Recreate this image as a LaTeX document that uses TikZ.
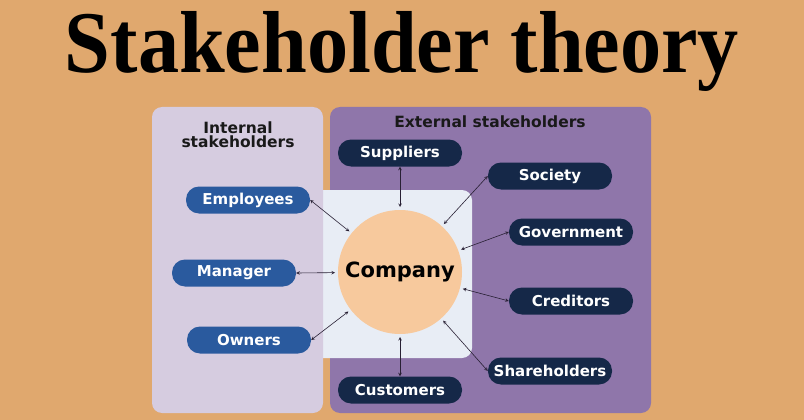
\documentclass[tikz,border=0pt]{standalone}
\usepackage{fontspec}
\setmainfont{Liberation Serif}
\setsansfont{DejaVu Sans}
\usetikzlibrary{positioning}
\usetikzlibrary{shapes,arrows}

\definecolor{bgorange}{RGB}{224,168,110}
\definecolor{intpanel}{RGB}{214,204,224}
\definecolor{extpanel}{RGB}{143,118,170}
\definecolor{corearea}{RGB}{232,237,245}
\definecolor{peach}{RGB}{247,201,157}
\definecolor{navy}{RGB}{21,40,72}
\definecolor{midblue}{RGB}{42,90,158}
\definecolor{linkcol}{RGB}{40,32,52}

\begin{document}
\begin{tikzpicture}[x=1pt,y=-1pt,
                    pill/.style={rounded corners=13pt,
                                 minimum width=124pt,
                                 minimum height=27pt,
                                 inner sep=0pt,
                                 text=white,
                                 font=\sffamily\bfseries\fontsize{15}{17}\selectfont
                                },
                    internal/.style={pill,fill=midblue},
                    external/.style={pill,fill=navy},
                    heading/.style={align=center,text=black!90,
                                    font=\sffamily\bfseries\fontsize{15.5}{17}\selectfont},
                    stakelink/.style={
                                    line width=0.6pt,
                                    draw=linkcol,
                                    <->,
                                    >=stealth
                                    }
                    ]
  \fill[bgorange] (0,0) rectangle (804,420);
  \useasboundingbox (0,0) rectangle (804,420);

  % title
  \node[anchor=base,inner sep=0pt] (title) at (402,73) {\scalebox{0.935}[1]{\fontsize{88}{92}\selectfont\bfseries Stakeholder theory}};

  % panels
  \fill[extpanel,rounded corners=10pt] (330,107) rectangle (651,413);
  \fill[corearea,rounded corners=10pt] (310,190) rectangle (472,358);
  \fill[intpanel,rounded corners=10pt] (152,107) rectangle (323,413);

  \node[heading] (inthead) at (238,135) {Internal\\[-3pt]stakeholders};
  \node[heading] (exthead) at (490,122) {External stakeholders};

  % centre
  \node[circle,fill=peach,minimum size=124pt,inner sep=0pt,outer sep=3pt,
        font=\sffamily\bfseries\fontsize{21}{24}\selectfont] (company) at (400,272) {Company};

  % internal stakeholders
  \node[internal] (employees) at (248,200) {Employees};
  \node[internal] (manager)   at (234,273) {Manager};
  \node[internal] (owners)    at (249,340) {Owners};

  % external stakeholders
  \node[external] (suppliers)    at (400,153) {Suppliers};
  \node[external] (society)      at (550,176) {Society};
  \node[external] (government)   at (571,232) {Government};
  \node[external] (creditors)    at (571,301) {Creditors};
  \node[external] (shareholders) at (550,371) {Shareholders};
  \node[external] (customers)    at (400,390) {Customers};

  \draw [stakelink] (employees.east) -- (company);
  \draw [stakelink] (manager.east) -- (company);
  \draw [stakelink] (owners.east) -- (company);
  \draw [stakelink] (suppliers.south) -- (company);
  \draw [stakelink] (society.west) -- (company);
  \draw [stakelink] (government.west) -- (company);
  \draw [stakelink] (creditors.west) -- (company);
  \draw [stakelink] (shareholders.west) -- (company);
  \draw [stakelink] (customers.north) -- (company);

\end{tikzpicture}
\end{document}
